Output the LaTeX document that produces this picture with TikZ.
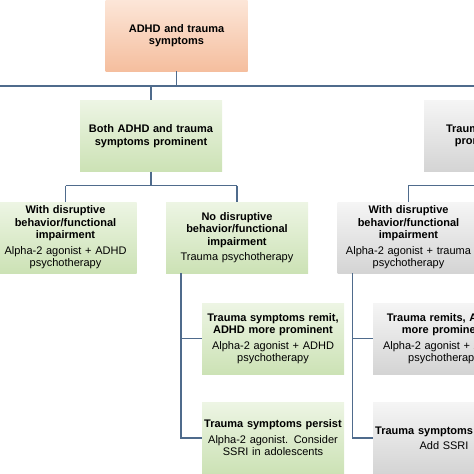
\documentclass[tikz,border=0pt]{standalone}
\usepackage{fontspec}
\setmainfont{Liberation Sans}
\usepackage{xcolor}
\usepackage{tikz}
\usetikzlibrary{positioning, calc}

\definecolor{linkblue}{HTML}{4F6B8C}
\definecolor{greentop}{HTML}{EDF5E4}
\definecolor{greenbot}{HTML}{CCE2B5}
\definecolor{graytop}{HTML}{F5F5F5}
\definecolor{graybot}{HTML}{D4D4D4}
\definecolor{peachtop}{HTML}{FCE6D8}
\definecolor{peachbot}{HTML}{F5BE9E}

\tikzset{
  box/.style={minimum width=142pt, minimum height=71pt, text width=140pt,
    align=center, inner sep=1pt, font=\fontsize{11}{12.5}\selectfont},
  greenbox/.style={box, top color=greentop, bottom color=greenbot},
  graybox/.style={box, top color=graytop, bottom color=graybot},
  peachbox/.style={box, top color=peachtop, bottom color=peachbot},
  link/.style={draw=linkblue, line width=1.4pt}
}

\begin{document}
\begin{tikzpicture}[x=1pt, y=-1pt]
  \useasboundingbox (0,0) rectangle (474,474);
  % Root
  \node[peachbox] (root) at (176.5,35.5) {\bfseries ADHD and trauma\\symptoms};
  % Second level
  \node[greenbox] (both) at (151,136) {\bfseries Both ADHD and trauma\\symptoms prominent};
  \node[graybox] (trauma) at (495,136) {\bfseries Trauma symptoms\\prominent only};
  % Third level
  \node[greenbox] (withdis) at (65.5,237.5)
    {{\bfseries With disruptive\\behavior/functional\\impairment}\\[3pt]
     Alpha-2 agonist + ADHD\\psychotherapy};
  \node[greenbox] (nodis) at (237,237.5)
    {{\bfseries No disruptive\\behavior/functional\\impairment}\\[3pt]
     Trauma psychotherapy};
  \node[graybox] (trwithdis) at (408.5,237.5)
    {{\bfseries With disruptive\\behavior/functional\\impairment}\\[3pt]
     Alpha-2 agonist + trauma\\psychotherapy};
  % Fourth level
  \node[greenbox] (remit) at (273,338.5)
    {{\bfseries Trauma symptoms remit,\\ADHD more prominent}\\[3pt]
     Alpha-2 agonist + ADHD\\psychotherapy};
  \node[greenbox] (persist) at (273,438)
    {{\bfseries Trauma symptoms persist}\\[3pt]
     Alpha-2 agonist. Consider\\SSRI in adolescents};
  \node[graybox] (trremit) at (444,338.5)
    {{\bfseries Trauma remits, ADHD\\more prominent}\\[3pt]
     Alpha-2 agonist + ADHD\\psychotherapy};
  \node[graybox] (trpersist) at (444,438)
    {{\bfseries Trauma symptoms persist}\\[3pt]
     Add SSRI};
  % Connectors
  \coordinate (rail) at (0,86);
  \coordinate (railend) at (474,86);
  \draw[link] (rail) -- (railend);
  \draw[link] (root.south) -- (root.south |- rail);
  \draw[link] (both.north |- rail) -- (both.north);
  \draw[link] (both.south) -- ++(0,14) coordinate (bothrail)
    (withdis.north |- bothrail) -- (nodis.north |- bothrail);
  \draw[link] (withdis.north |- bothrail) -- (withdis.north);
  \draw[link] (nodis.north |- bothrail) -- (nodis.north);
  \draw[link] (trauma.south) -- ++(0,14) coordinate (trrail)
    -- (trwithdis.north |- trrail) -- (trwithdis.north);
  \coordinate (nodisleg) at ($(nodis.south west)+(15,0)$);
  \draw[link] (nodisleg) -- (nodisleg |- persist.west) -- (persist.west);
  \draw[link] (nodisleg |- remit.west) -- (remit.west);
  \coordinate (trleg) at ($(trwithdis.south west)+(15,0)$);
  \draw[link] (trleg) -- (trleg |- trpersist.west) -- (trpersist.west);
  \draw[link] (trleg |- trremit.west) -- (trremit.west);
\end{tikzpicture}
\end{document}
